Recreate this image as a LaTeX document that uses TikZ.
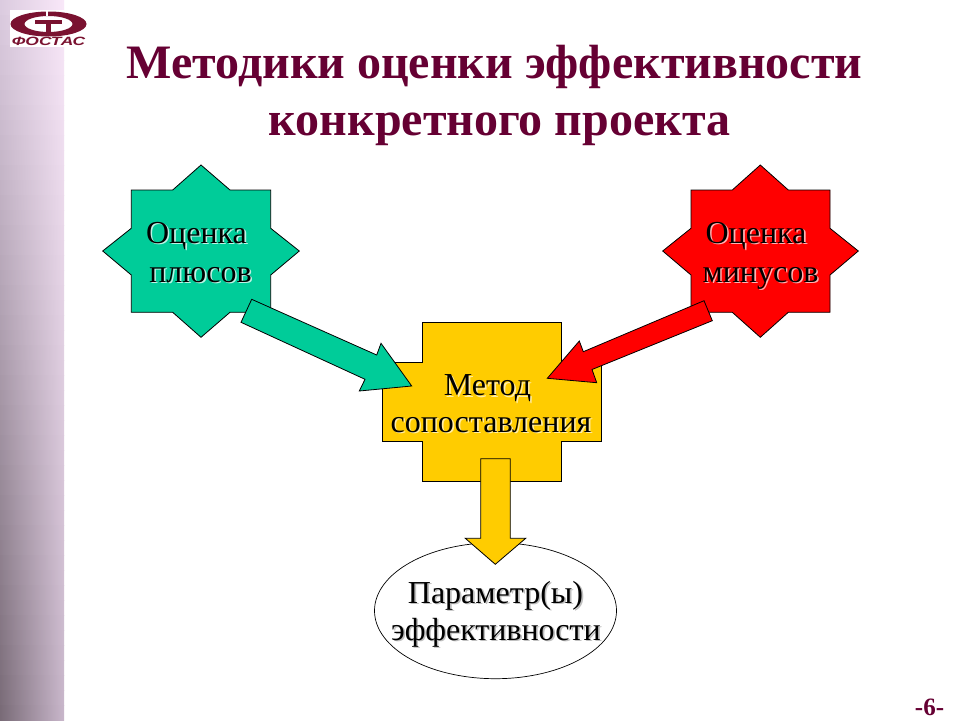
\documentclass[tikz,border=0pt]{standalone}
\usepackage{fontspec}
\setmainfont{Liberation Serif}
\newfontfamily\logofont{Liberation Sans}
\definecolor{titlecol}{HTML}{660033}
\definecolor{greencol}{HTML}{00CC99}
\definecolor{redcol}{HTML}{FF0000}
\definecolor{yellowcol}{HTML}{FFCC00}
\definecolor{logocol}{HTML}{7A1230}
\definecolor{stripTL}{HTML}{DCCCE0}
\definecolor{stripTR}{HTML}{F9E8F9}
\definecolor{stripBL}{HTML}{786A76}
\definecolor{stripBR}{HTML}{C8B6CA}
\tikzset{
  shapeline/.style={draw=black,line width=0.8pt,line join=miter},
  lab/.style={font=\fontsize{32}{36}\selectfont,align=center,inner sep=0pt,text=black},
  labshadow/.style={lab,text=#1},
  titletext/.style={font=\fontsize{48}{54}\selectfont\bfseries,text=titlecol,inner sep=0pt,anchor=base}
}
\newcommand{\shlabel}[5]{%
  \node[labshadow=#5,anchor=base] at ([xshift=1.6pt,yshift=-1.6pt]#2,#3) {#4};
  \node[lab,anchor=base] (#1) at (#2,#3) {#4};}
\begin{document}
\begin{tikzpicture}[x=1pt,y=-1pt]
\useasboundingbox (0,0) rectangle (960,720);
\fill[white] (0,0) rectangle (960,720);
\begin{scope}
\clip (0,0) rectangle (64,720);
\foreach \i in {0,...,47}{
  \pgfmathsetmacro{\p}{100*(\i+0.5)/48}
  \shade[left color=stripBL!\p!stripTL,right color=stripBR!\p!stripTR] (0,15*\i) rectangle (64,15*\i+15.6);
}
\end{scope}
% logo
\fill[white] (10,10) rectangle (87,47);
\fill[logocol,even odd rule] (48.5,24) ellipse (38 and 12.5) (48.5,24) ellipse (24 and 8);
\fill[logocol] (35,19.5) rectangle (62,23.5);
\fill[logocol] (46,19.5) rectangle (50.5,36);
\fill[white] (46,11) rectangle (48,16);
\node[font=\logofont\bfseries\itshape\fontsize{12}{14}\selectfont,text=logocol,inner sep=0pt,anchor=base,xscale=1.45] (logotext) at (48.5,45) {ФОСТАС};
% title
\node[titletext] (t1) at (494.5,78) {Методики оценки эффективности};
\node[titletext] (t2) at (499.5,135.5) {конкретного проекта};
% stars
\filldraw[shapeline,fill=greencol] (201,165) -- (230,190) -- (270.7,190) -- (270.7,228.3) -- (299.3,251) -- (270.7,275) -- (270.7,312.3) -- (230,312.3) -- (201,337.3) -- (172.7,312.3) -- (131.3,312.3) -- (131.3,275) -- (102.7,251) -- (131.3,228.3) -- (131.3,190) -- (172.7,190) -- cycle;
\filldraw[shapeline,fill=redcol] (760.3,165) -- (788.3,190) -- (830,190) -- (830,228.3) -- (858.3,251) -- (830,275) -- (830,312.3) -- (788.3,312.3) -- (760.3,337.3) -- (732.3,312.3) -- (691,312.3) -- (691,275) -- (662.7,251) -- (691,228.3) -- (691,190) -- (732.3,190) -- cycle;
% cross
\filldraw[shapeline,fill=yellowcol] (422.3,322.7) -- (561.7,322.7) -- (561.7,362.3) -- (601,362.3) -- (601,441.7) -- (561.7,441.7) -- (561.7,481.3) -- (422.3,481.3) -- (422.3,441.7) -- (382.7,441.7) -- (382.7,362.3) -- (422.3,362.3) -- cycle;
% ellipse
\filldraw[draw=black,line width=0.7pt,fill=white] (495.5,610.7) ellipse (121 and 68);
% arrows
\filldraw[shapeline,fill=greencol] (251.7,299.3) -- (376.7,355) -- (381,343.3) -- (411.7,386) -- (359.3,391) -- (365,379.3) -- (241,322.3) -- cycle;
\filldraw[shapeline,fill=redcol] (704,300.7) -- (583.3,351.7) -- (579.3,341) -- (547.3,378.3) -- (596.7,382.7) -- (592,369.5) -- (712.3,320.7) -- cycle;
\filldraw[shapeline,fill=yellowcol] (480.7,458.7) -- (510.3,458.7) -- (510.3,538.3) -- (525.7,538.3) -- (495.3,564.3) -- (465.3,538.3) -- (480.7,538.3) -- cycle;
% labels
\shlabel{l1}{196.5}{243}{Оценка}{white!75!greencol}
\shlabel{l2}{200.5}{282}{плюсов}{white!75!greencol}
\shlabel{l3}{756}{243}{Оценка}{white!70!redcol}
\shlabel{l4}{760.5}{282}{минусов}{white!70!redcol}
\shlabel{l5}{487.5}{395.5}{Метод}{white!65!yellowcol}
\shlabel{l6}{491}{432}{сопоставления}{white!65!yellowcol}
\shlabel{l7}{495.5}{603}{Параметр(ы)}{black!25}
\shlabel{l8}{496}{640}{эффективности}{black!25}
% page number
\node[font=\fontsize{25}{28}\selectfont\bfseries,text=titlecol,inner sep=0pt,anchor=base] (pg) at (929.5,715) {-6-};
\end{tikzpicture}
\end{document}
